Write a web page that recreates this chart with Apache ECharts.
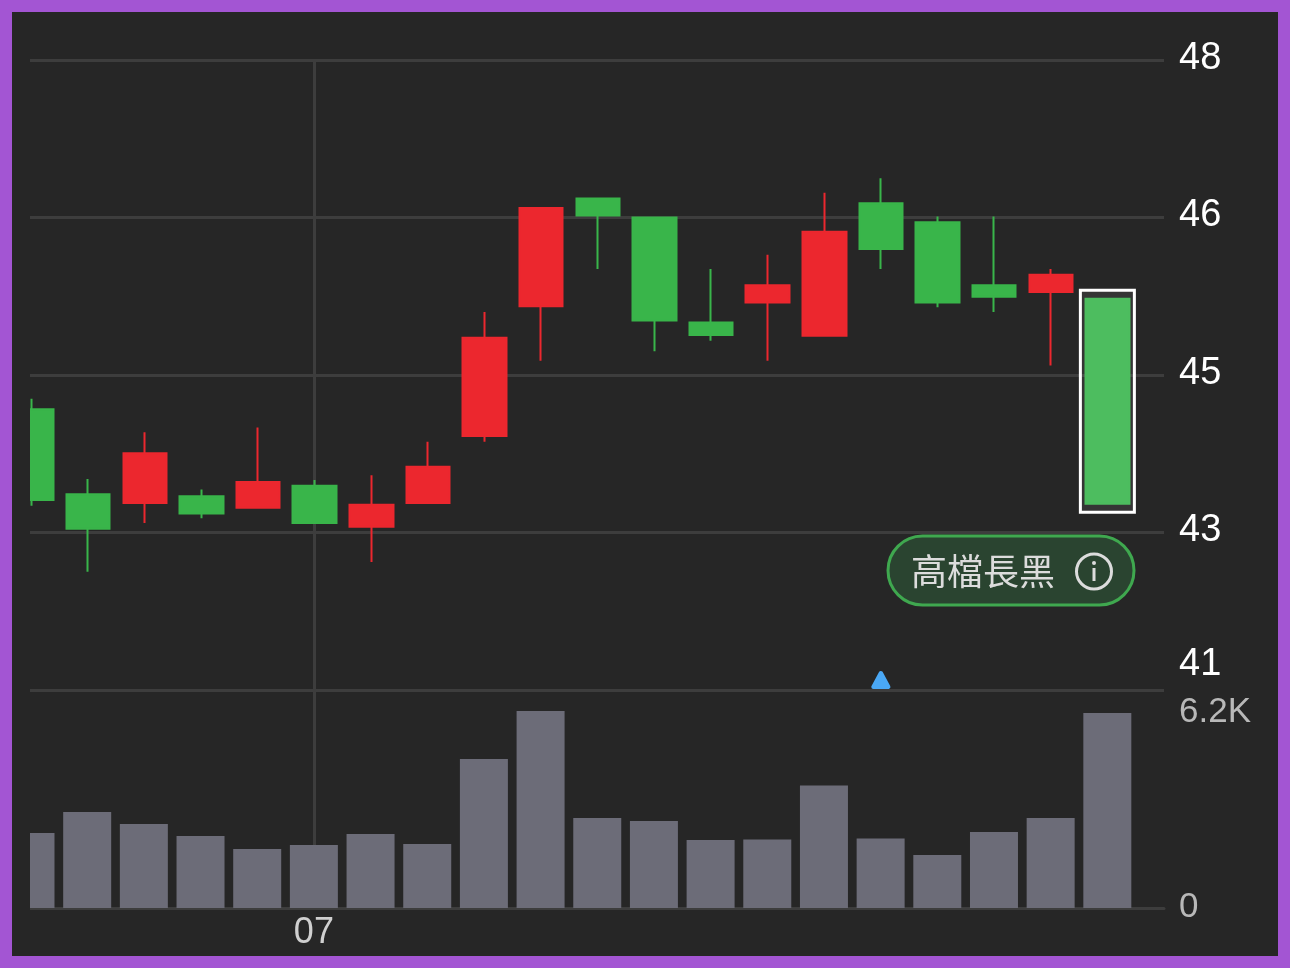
<!DOCTYPE html>
<html><head><meta charset="utf-8">
<style>html,body{margin:0;padding:0;background:#a355d3}#c{width:1290px;height:968px}</style>
<script src="https://cdn.jsdelivr.net/npm/echarts@6/dist/echarts.min.js"></script>
</head><body><div id="c"></div>
<script>
const slots  = [0,1,2,3,4,5,6,7,8,9,10,11,12,13,14,15,16,17,18,19];
const opens  = [44.19,43.30,43.21,43.28,43.16,43.39,42.96,43.21,43.91,45.27,46.40,46.20,45.10,45.31,44.96,46.35,46.15,45.49,45.42,45.35];
const closes = [43.24,42.94,43.73,43.10,43.43,43.00,43.19,43.59,44.94,46.30,46.22,45.12,44.97,45.49,46.05,45.87,45.31,45.37,45.60,43.20];
const lows   = [43.18,42.49,43.00,43.05,43.15,42.99,42.59,43.20,43.85,44.70,45.66,44.80,44.91,44.70,44.95,45.66,45.26,45.21,44.65,43.19];
const highs  = [44.30,43.46,43.95,43.35,44.00,43.45,43.50,43.85,45.21,46.31,46.41,46.21,45.66,45.81,46.46,46.61,46.21,46.21,45.66,45.36];
const volumes= [2360,3021,2644,2266,1857,1983,2329,2014,4689,6200,2832,2738,2140,2156,3855,2187,1668,2392,2832,6137];
const dateSlot = 5;
const dateLabel = '07';
const volumeTop = 6200;
const volumeTopLabel = '6.2K';
const markerPoint = [15, 41.355];
const badgeText = '高檔長黑';

const GRID='#3d3d3d', RED='#ec272e', GREEN='#39b54a', LAST='#4dbd5f', BG='#262626', FRAME='#a355d3';
const chart = echarts.init(document.getElementById('c'),null,{renderer:'canvas'});
const xBase = {type:'value',max:20,splitLine:{show:false},axisTick:{show:false}};
const candles = slots.map((s,i)=>{
  const d={value:[s,opens[i],closes[i],lows[i],highs[i]]};
  if(i===slots.length-1) d.itemStyle={color0:LAST,borderColor0:LAST,color:LAST,borderColor:LAST};
  return d;
});
chart.setOption({
  animation:false,
  backgroundColor:FRAME,
  grid:[
    {left:30,right:126,top:60,height:630},
    {left:30,right:126,top:690,height:218}
  ],
  xAxis:[
    {...xBase,min:-0.0265,gridIndex:0,axisLine:{show:false},axisLabel:{show:false}},
    {...xBase,min:-0.009,gridIndex:1,
      axisLine:{show:true,onZero:true,lineStyle:{color:GRID,width:3}},
      axisLabel:{show:true,customValues:[dateSlot],formatter:()=>dateLabel,color:'#cfcfcf',fontSize:36,
        fontFamily:'Liberation Sans',margin:7}}
  ],
  yAxis:[
    {type:'value',gridIndex:0,position:'right',min:41.25,max:47.85,interval:1.65,scale:true,
      axisLine:{show:false},axisTick:{show:false},
      splitLine:{show:true,lineStyle:{color:GRID,width:3}},
      axisLabel:{margin:15,color:'#ffffff',fontSize:38,fontFamily:'Liberation Sans',
        formatter:v=>{const t=String(Math.round(v));return v<41.5?`{low|${t}}`:`{top|${t}}`;},
        rich:{low:{color:'#fff',fontSize:38,fontFamily:'Liberation Sans',padding:[0,0,50,0]},
              top:{color:'#fff',fontSize:38,fontFamily:'Liberation Sans',padding:[0,0,3,0]}}}},
    {type:'value',gridIndex:1,position:'right',min:0,max:6861,interval:volumeTop,
      axisLine:{show:false},axisTick:{show:false},splitLine:{show:false},
      axisLabel:{margin:15,color:'#b8b8b8',fontSize:35,fontFamily:'Liberation Sans',showMaxLabel:false,
        formatter:v=>v===0?'{z|0}':`{t|${volumeTopLabel}}`,
        rich:{z:{color:'#b8b8b8',fontSize:35,fontFamily:'Liberation Sans',padding:[0,0,2,0]},
              t:{color:'#b8b8b8',fontSize:35,fontFamily:'Liberation Sans',padding:[3,0,0,0]}}}}
  ],
  series:[
    {type:'line',xAxisIndex:0,yAxisIndex:0,data:[],z:1,silent:true,
      markLine:{silent:true,z:1,symbol:'none',label:{show:false},animation:false,
        lineStyle:{color:GRID,width:3,type:'solid'},data:[{xAxis:dateSlot}]}},
    {type:'line',xAxisIndex:1,yAxisIndex:1,data:[],z:1,silent:true,
      markLine:{silent:true,z:1,symbol:'none',label:{show:false},animation:false,
        lineStyle:{color:GRID,width:3,type:'solid'},data:[{xAxis:dateSlot}]}},
    {type:'candlestick',xAxisIndex:0,yAxisIndex:0,barWidth:44,z:3,clip:true,
      encode:{x:0,y:[1,2,3,4]},
      itemStyle:{color:RED,color0:GREEN,borderColor:RED,borderColor0:GREEN,borderWidth:2},
      data:candles},
    {type:'bar',xAxisIndex:1,yAxisIndex:1,barWidth:48,z:3,clip:true,
      itemStyle:{color:'#6c6c78'},
      data:slots.map((s,i)=>[s,volumes[i]])},
    {type:'scatter',xAxisIndex:0,yAxisIndex:0,z:4,symbol:'triangle',symbolSize:[15,14],
      itemStyle:{color:'#4aa8f5',borderColor:'#4aa8f5',borderWidth:4,borderJoin:'round',opacity:1},
      data:[markerPoint]}
  ]
});
const last=slots.length-1;
const pTop=chart.convertToPixel({gridIndex:0},[slots[last],opens[last]]);
const pBot=chart.convertToPixel({gridIndex:0},[slots[last],closes[last]]);
const cx=pTop[0], boxL=cx-27, boxR=cx+27, boxT=pTop[1]-8.5, boxB=pBot[1]+8.5;
chart.setOption({
  graphic:[
    {type:'rect',z:-10,silent:true,shape:{x:12,y:12,width:1266,height:944},style:{fill:BG}},
    {type:'rect',z:8,silent:true,shape:{x:12,y:60,width:18,height:850},style:{fill:BG}},
    {type:'rect',z:8,silent:true,shape:{x:0,y:0,width:12,height:968},style:{fill:FRAME}},
    {type:'rect',z:1,silent:true,shape:{x:boxL,y:boxT,width:boxR-boxL,height:boxB-boxT},
      style:{fill:'rgba(255,255,255,0.07)',stroke:'#ffffff',lineWidth:3}},
    {type:'rect',z:10,silent:true,shape:{x:888,y:536,width:246,height:69,r:34.5},
      style:{fill:'#2a4430',stroke:'#3fa84f',lineWidth:3}},
    {type:'text',z:11,silent:true,x:911,y:571,
      style:{text:badgeText,fill:'#dcdcdc',fontSize:36,fontFamily:'Noto Sans CJK TC',verticalAlign:'middle',align:'left'}},
    {type:'circle',z:11,silent:true,shape:{cx:1094,cy:571.5,r:17.5},style:{fill:'none',stroke:'#dcdcdc',lineWidth:3}},
    {type:'circle',z:11,silent:true,shape:{cx:1094,cy:563,r:2},style:{fill:'#dcdcdc'}},
    {type:'rect',z:11,silent:true,shape:{x:1092.5,y:568,width:3,height:13},style:{fill:'#dcdcdc'}}
  ]
});
</script></body></html>
